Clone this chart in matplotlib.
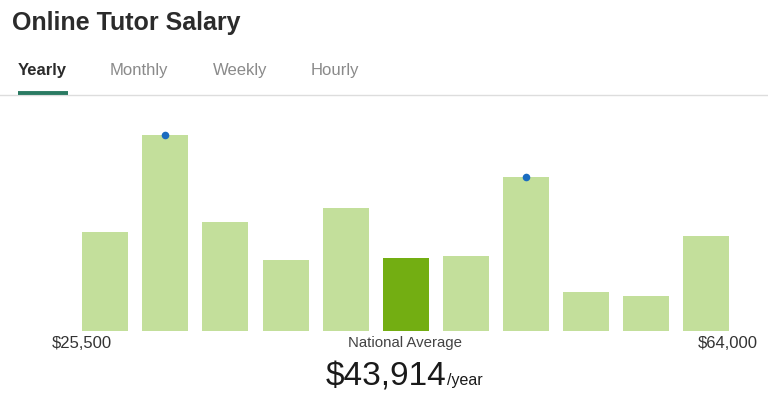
import matplotlib
matplotlib.use("Agg")
import matplotlib.pyplot as plt

plt.rcParams['font.family'] = ['Liberation Sans', 'DejaVu Sans']

# Data (relative bar heights)
bins = list(range(11))
heights = [99, 196, 109, 71, 123, 73, 75, 154, 39, 35, 95]
highlight_index = 5
marker_indices = [1, 7]
tabs = ["Yearly", "Monthly", "Weekly", "Hourly"]
min_label = "$25,500"
max_label = "$64,000"
avg_label = "National Average"
avg_value = "$43,914"
avg_unit = "/year"
title = "Online Tutor Salary"

W, H = 768, 394
fig = plt.figure(figsize=(W / 100, H / 100), dpi=100)
fig.patch.set_facecolor("white")

def fx(px):
    return px / W

def fy(py):
    return 1 - py / H

# Bars axes: bottom at pixel 331, top at 120
ax = fig.add_axes([0, fy(331), 1, (331 - 120) / H])
spacing = 60.07
x0 = 105.3
ax.set_xlim(-x0 / spacing, (W - x0) / spacing)
ax.set_ylim(0, 211)
colors = ["#73ae12" if i == highlight_index else "#c3df9b" for i in bins]
ax.bar(bins, heights, width=46 / spacing, color=colors, linewidth=0)
ax.scatter([bins[i] for i in marker_indices], [heights[i] for i in marker_indices],
           s=30, color="#1b6cc0", zorder=3, clip_on=False, linewidths=0)
ax.axis("off")

# Title
fig.text(fx(12), fy(23), title, fontsize=18, fontweight="bold", color="#2b2b2b",
         ha="left", va="center")

# Tabs
tab_x = [18, 110, 213, 311]
for i, (t, x) in enumerate(zip(tabs, tab_x)):
    fig.text(fx(x), fy(71), t, fontsize=12,
             fontweight="bold" if i == 0 else "normal",
             color="#2b2b2b" if i == 0 else "#8a8a8a", ha="left", va="center")

# Tab underline and separator
fig.add_artist(plt.Line2D([0, 1], [fy(94.5), fy(94.5)], color="#dddddd", lw=1))
fig.add_artist(plt.Line2D([fx(18), fx(68)], [fy(93), fy(93)], color="#2a7a62",
                          lw=2.8, solid_capstyle="butt"))

# Bottom labels
fig.text(fx(52), fy(343), min_label, fontsize=12, color="#333333", ha="left", va="center")
fig.text(fx(758), fy(343), max_label, fontsize=12, color="#333333", ha="right", va="center")
fig.text(fx(405.5), fy(343), avg_label, fontsize=10.8, color="#444444", ha="center", va="center")
fig.text(fx(446), fy(385), avg_value, fontsize=24, color="#1a1a1a", ha="right", va="baseline")
fig.text(fx(447), fy(385), avg_unit, fontsize=11.5, color="#1a1a1a", ha="left", va="baseline")

fig.savefig("out.png", dpi=100, facecolor="white")
